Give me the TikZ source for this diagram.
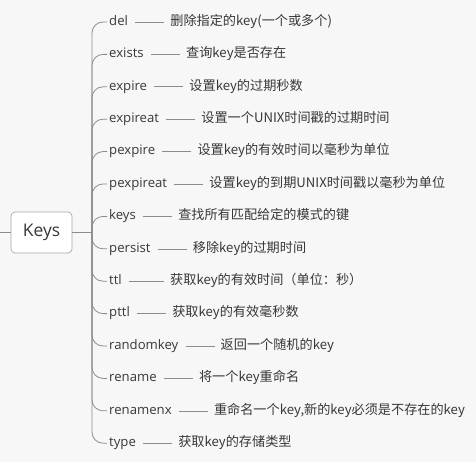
\documentclass[tikz,border=0pt]{standalone}
\usepackage{fontspec}
\setmainfont{Open Sans}
\newfontfamily\cjk{Noto Sans CJK SC}
\usetikzlibrary{positioning}
\definecolor{paper}{HTML}{F7F7F7}
\definecolor{ink}{HTML}{383838}
\definecolor{wire}{HTML}{8C8C8C}
\definecolor{frame}{HTML}{A8A8A8}

\begin{document}
\begin{tikzpicture}[
  x=1bp, y=1bp,
  font=\fontsize{13.2}{16}\selectfont, text=ink,
  root/.style={draw=frame, fill=white, rounded corners=4bp, line width=0.7pt,
    minimum width=61bp, minimum height=41bp, inner sep=0pt,
    font=\fontsize{17.5}{20}\selectfont},
  cmd/.style={inner sep=0pt, text height=9.5bp, text depth=3bp},
  desc/.style={inner sep=0pt, text height=9.5bp, text depth=3bp,
    font=\fontsize{13.2}{16}\selectfont\cjk},
  branch/.style={draw=wire, line width=0.8pt, rounded corners=11bp, shorten >=2bp},
  link/.style={draw=wire, line width=0.6pt, shorten <=7bp, shorten >=6bp},
]
  \fill[paper] (0,0) rectangle (476,-462);
  \useasboundingbox (0,0) rectangle (476,-462);

  \node[root] (keys) at (41.5,-232.5) {Keys};
  \coordinate (edge) at (0,-232.5);
  \coordinate (hub) at (92,-232.5);

  % commands
  \node[cmd, anchor=west] (del) at (109,-22) {del};
  \node[cmd, below=32.4bp of del.west, anchor=west] (exists) {exists};
  \node[cmd, below=32.4bp of exists.west, anchor=west] (expire) {expire};
  \node[cmd, below=32.4bp of expire.west, anchor=west] (expireat) {expireat};
  \node[cmd, below=32.4bp of expireat.west, anchor=west] (pexpire) {pexpire};
  \node[cmd, below=32.4bp of pexpire.west, anchor=west] (pexpireat) {pexpireat};
  \node[cmd, below=32.4bp of pexpireat.west, anchor=west] (keyscmd) {keys};
  \node[cmd, below=32.4bp of keyscmd.west, anchor=west] (persist) {persist};
  \node[cmd, below=32.4bp of persist.west, anchor=west] (ttl) {ttl};
  \node[cmd, below=32.4bp of ttl.west, anchor=west] (pttl) {pttl};
  \node[cmd, below=32.4bp of pttl.west, anchor=west] (randomkey) {randomkey};
  \node[cmd, below=32.4bp of randomkey.west, anchor=west] (rename) {rename};
  \node[cmd, below=32.4bp of rename.west, anchor=west] (renamenx) {renamenx};
  \node[cmd, below=32.4bp of renamenx.west, anchor=west] (type) {type};

  % descriptions
  \node[desc, right=42bp of del] (delx) {删除指定的key(一个或多个)};
  \node[desc, right=42bp of exists] (existsx) {查询key是否存在};
  \node[desc, right=42bp of expire] (expirex) {设置key的过期秒数};
  \node[desc, right=42bp of expireat] (expireatx) {设置一个UNIX时间戳的过期时间};
  \node[desc, right=42bp of pexpire] (pexpirex) {设置key的有效时间以毫秒为单位};
  \node[desc, right=42bp of pexpireat] (pexpireatx) {设置key的到期UNIX时间戳以毫秒为单位};
  \node[desc, right=42bp of keyscmd] (keysx) {查找所有匹配给定的模式的键};
  \node[desc, right=42bp of persist] (persistx) {移除key的过期时间};
  \node[desc, right=48bp of ttl] (ttlx) {获取key的有效时间（单位：秒）};
  \node[desc, right=42bp of pttl] (pttlx) {获取key的有效毫秒数};
  \node[desc, right=42bp of randomkey] (randomkeyx) {返回一个随机的key};
  \node[desc, right=42bp of rename] (renamex) {将一个key重命名};
  \node[desc, right=42bp of renamenx] (renamenxx) {重命名一个key,新的key必须是不存在的key};
  \node[desc, right=42bp of type] (typex) {获取key的存储类型};

  \draw[draw=wire, line width=0.8pt] (edge) -- (keys);
  \draw[draw=wire, line width=0.8pt] (keys) -- (hub);
  \draw[branch] (hub) |- (del);
  \draw[branch] (hub) |- (exists);
  \draw[branch] (hub) |- (expire);
  \draw[branch] (hub) |- (expireat);
  \draw[branch] (hub) |- (pexpire);
  \draw[branch] (hub) |- (pexpireat);
  \draw[branch] (hub) |- (keyscmd);
  \draw[branch] (hub) |- (persist);
  \draw[branch] (hub) |- (ttl);
  \draw[branch] (hub) |- (pttl);
  \draw[branch] (hub) |- (randomkey);
  \draw[branch] (hub) |- (rename);
  \draw[branch] (hub) |- (renamenx);
  \draw[branch] (hub) |- (type);

  \draw[link] (del) -- (delx);
  \draw[link] (exists) -- (existsx);
  \draw[link] (expire) -- (expirex);
  \draw[link] (expireat) -- (expireatx);
  \draw[link] (pexpire) -- (pexpirex);
  \draw[link] (pexpireat) -- (pexpireatx);
  \draw[link] (keyscmd) -- (keysx);
  \draw[link] (persist) -- (persistx);
  \draw[link] (ttl) -- (ttlx);
  \draw[link] (pttl) -- (pttlx);
  \draw[link] (randomkey) -- (randomkeyx);
  \draw[link] (rename) -- (renamex);
  \draw[link] (renamenx) -- (renamenxx);
  \draw[link] (type) -- (typex);
\end{tikzpicture}
\end{document}
